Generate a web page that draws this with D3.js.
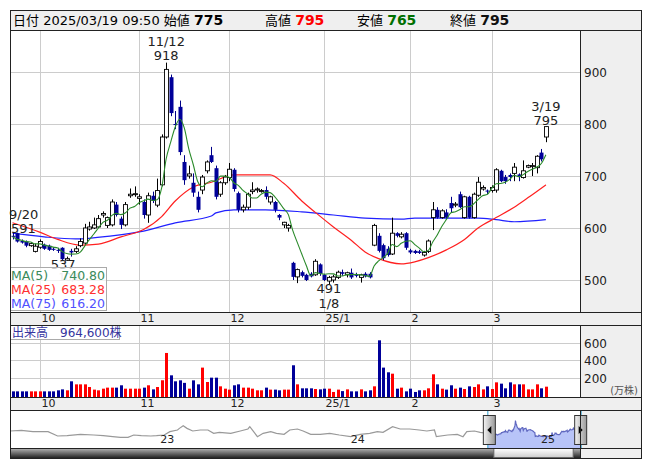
<!DOCTYPE html>
<html><head><meta charset="utf-8">
<script src="https://cdn.jsdelivr.net/npm/d3@7/dist/d3.min.js"></script>
<style>body{margin:0;background:#fff}svg{display:block}text{font-family:"DejaVu Sans","Noto Sans CJK JP",sans-serif}</style>
</head><body><svg id="c" width="653" height="470"></svg>
<script>
// ---- data ----
const holidays = ["2024-09-23","2024-10-14","2024-11-04","2024-12-31","2025-01-01","2025-01-02","2025-01-03","2025-01-13","2025-02-11","2025-02-24"];
const startDate = "2024-09-20", endDate = "2025-03-19";
const opens  = [585,590,575,574,566,555,563,568,566,560,558,562,538,556,555,566,571,598,600,602,625,605,606,645,618,606,662,665,657,650,625,662,644,683,775,890,800,833,727,700,687,660,673,710,740,715,665,687,697,712,667,635,640,670,673,670,673,650,650,625,606,600,533,506,515,510,512,510,530,510,498,500,505,515,510,514,510,505,512,512,567,585,567,560,550,590,583,590,557,556,555,548,555,620,635,620,630,648,644,665,620,660,620,663,675,672,672,673,710,698,702,705,703,697,717,718,716,745,775];
const highs  = [591,591,578,576,572,570,578,570,568,563,562,563,545,560,565,580,608,612,620,625,632,622,655,650,622,650,676,680,665,655,668,670,695,780,918,895,825,845,740,720,705,670,702,730,756,720,690,702,725,715,670,645,668,688,678,675,680,662,652,627,612,608,535,522,518,512,515,540,532,512,508,510,518,520,516,522,514,512,515,515,608,590,570,565,620,592,592,592,560,558,558,556,578,650,640,636,636,660,650,670,662,662,668,698,682,674,682,715,712,702,705,725,705,730,722,725,740,752,795];
const lows   = [578,572,570,563,564,553,560,558,556,556,552,537,537,545,552,563,568,595,598,600,620,600,603,622,598,603,658,660,645,618,610,648,640,680,772,815,790,740,683,695,660,630,665,705,725,655,660,683,690,670,630,630,635,665,668,668,655,645,630,615,600,593,500,494,505,498,505,508,508,498,491,495,502,508,505,502,505,495,505,503,565,553,538,545,548,582,580,558,550,550,550,545,552,596,618,618,618,630,640,638,618,618,618,660,672,665,668,668,688,685,690,690,690,695,715,700,705,728,765];
const closes = [583,574,572,566,570,565,574,560,558,559,556,540,541,553,560,574,600,602,606,618,628,620,650,625,606,645,665,666,660,625,662,652,672,775,905,821,798,746,692,704,668,635,698,727,727,660,687,698,713,675,635,640,665,673,675,672,660,660,635,620,611,605,506,520,508,500,507,536,512,500,505,506,515,512,514,505,508,510,507,505,605,556,542,548,590,585,588,562,553,552,552,553,575,635,620,633,620,638,646,640,660,620,665,688,678,670,678,712,690,690,698,717,698,710,720,720,738,732,795];
const volumes = [42,42,42,42,42,42,42,42,42,42,54,65,54,158,123,123,123,92,62,54,73,85,85,85,112,73,73,73,73,85,112,65,92,170,485,227,158,169,140,73,169,123,316,150,200,200,100,73,62,112,123,85,85,73,54,54,85,62,62,54,62,62,343,123,77,77,77,69,65,73,73,35,62,45,65,42,42,65,42,54,100,631,316,262,246,73,85,42,73,35,54,54,77,239,123,73,62,112,73,85,69,100,92,123,65,100,69,146,131,77,146,123,123,123,65,65,123,77,96];
const ma25Pts = [[0,610],[6,592],[10,578],[15,567],[19,569],[24,583],[29,597],[33,622],[36,652],[40,679],[44,688],[49,702],[57,702],[60,686],[64,652],[67,630],[71,602],[75,576],[78,554],[81,541],[86,531],[89,535],[92,543],[96,558],[100,578],[103,600],[107,620],[111,640],[114,658],[118,683]];
const ma75Pts = [[0,590],[7,583],[14,579],[22,585],[29,594],[36,610],[44,623],[45,629],[49,635],[56,635],[64,631],[71,625],[78,619],[86,617],[89,619],[103,619],[107,616],[111,612],[118,616]];
const navYears = [2022.21,2022.27,2022.33,2022.41,2022.46,2022.51,2022.58,2022.65,2022.70,2022.75,2022.79,2022.83,2022.86,2022.90,2022.95,2022.98,2023.02,2023.05,2023.09,2023.10,2023.12,2023.14,2023.17,2023.21,2023.25,2023.28,2023.31,2023.37,2023.42,2023.46,2023.47,2023.49,2023.51,2023.54,2023.58,2023.61,2023.65,2023.68,2023.72,2023.75,2023.79,2023.84,2023.89,2023.94,2024.00,2024.05,2024.10,2024.14,2024.17,2024.22,2024.26,2024.31,2024.36,2024.40,2024.44,2024.45,2024.51,2024.56,2024.59,2024.61,2024.65,2024.68];
const navPrices = [642,658,625,625,516,524,558,541,524,499,483,483,541,524,516,524,541,625,667,708,775,708,642,667,667,583,608,583,642,692,750,625,499,583,625,583,558,667,692,642,558,558,583,541,499,558,583,625,608,750,692,692,667,642,667,499,541,558,499,625,642,608];
const priceTicks = [500,600,700,800,900];
const volTicks = [200,400,600];
const legend = [["MA(5)","740.80","#3a8a5a"],["MA(25)","683.28","#ff3030"],["MA(75)","616.20","#5050ff"]];

// ---- dates ----
const dates = [];
for (let d = new Date(startDate+"T00:00:00Z"); d <= new Date(endDate+"T00:00:00Z"); d.setUTCDate(d.getUTCDate()+1)) {
  const s = d.toISOString().slice(0,10), wd = d.getUTCDay();
  if (wd>0 && wd<6 && !holidays.includes(s)) dates.push(s);
}
const svg = d3.select("#c");
const L=10, R=580, RR=641;
const x = d3.scaleBand().domain(dates).range([10.24, 10.24+4.52*dates.length]);
const cx = i => x(dates[i]) + x.bandwidth()/2;
const y = d3.scaleLinear().domain([500,900]).range([280,72]);
const vy = d3.scaleLinear().domain([0,600]).range([395,343]);

// backgrounds
svg.append("rect").attr("x",L).attr("y",10).attr("width",RR-L).attr("height",449).attr("fill","#efefef");
svg.append("rect").attr("x",L).attr("y",30).attr("width",R-L).attr("height",282).attr("fill","#fff");
svg.append("rect").attr("x",L).attr("y",325).attr("width",R-L).attr("height",72).attr("fill","#fff");
svg.append("rect").attr("x",L).attr("y",410).attr("width",R-L).attr("height",38).attr("fill","#fff");

// header
const hdr = svg.append("text").attr("x",13).attr("y",25).attr("font-size",13).attr("font-family","Noto Sans CJK JP");
hdr.append("tspan").text("日付 2025/03/19 09:50 始値 ");
hdr.append("tspan").attr("font-weight","bold").attr("font-size",14).text("775");
const hv = [["高値",265,"795","#ff0000"],["安値",357,"765","#007000"],["終値",450,"795","#111"]];
hv.forEach(h=>{
  const t = svg.append("text").attr("x",h[1]).attr("y",25).attr("font-size",13).attr("font-family","Noto Sans CJK JP");
  t.append("tspan").text(h[0]+" ");
  t.append("tspan").attr("font-weight","bold").attr("font-size",14).attr("fill",h[3]).text(h[2]);
});

// month gridlines & labels
const monthIdx = [];
dates.forEach((d,i)=>{ if(i>0 && d.slice(5,7)!==dates[i-1].slice(5,7)) monthIdx.push(i); });
const mlabel = d => d.slice(5,7)==="01" ? d.slice(2,4)+"/1" : String(+d.slice(5,7));
const grid = svg.append("g").attr("stroke","#cccccc").attr("stroke-width",1);
monthIdx.forEach(i=>{
  const gx = Math.round(cx(i))+0.5;
  grid.append("line").attr("x1",gx).attr("x2",gx).attr("y1",30).attr("y2",312);
  grid.append("line").attr("x1",gx).attr("x2",gx).attr("y1",325).attr("y2",397);
  [322,407].forEach(ty=>svg.append("text").attr("x",gx+1).attr("y",ty).attr("font-size",11).attr("fill","#222").text(mlabel(dates[i])));
});
priceTicks.forEach(p=>{
  grid.append("line").attr("x1",L).attr("x2",R).attr("y1",Math.round(y(p))+0.5).attr("y2",Math.round(y(p))+0.5);
  svg.append("text").attr("x",584).attr("y",y(p)+5).attr("font-size",12).attr("fill","#222").text(p);
});
volTicks.forEach(v=>{
  grid.append("line").attr("x1",L).attr("x2",R).attr("y1",Math.round(vy(v))+0.5).attr("y2",Math.round(vy(v))+0.5);
  svg.append("text").attr("x",584).attr("y",vy(v)+5).attr("font-size",12).attr("fill","#222").text(v);
});
svg.append("text").attr("x",638).attr("y",394).attr("text-anchor","end").attr("font-size",10).attr("fill","#555").attr("font-family","Noto Sans CJK JP").text("(万株)");

// MA lines
const ma5 = closes.map((c,i)=>{const s=closes.slice(Math.max(0,i-4),i+1);return [i,d3.mean(s)];});
const ln = d3.line().x(d=>cx(d[0])).y(d=>y(d[1])).curve(d3.curveMonotoneX);
svg.append("path").attr("d",ln(ma75Pts)).attr("fill","none").attr("stroke","#2020ff").attr("stroke-width",1.2);
svg.append("path").attr("d",ln(ma25Pts)).attr("fill","none").attr("stroke","#ff2020").attr("stroke-width",1.2);

// candles
const cg = svg.append("g");
closes.forEach((c,i)=>{
  const o=opens[i], up=c>=o, X=Math.round(cx(i));
  cg.append("line").attr("x1",X+0.5).attr("x2",X+0.5).attr("y1",y(highs[i])).attr("y2",y(lows[i])).attr("stroke",up?"#000":"#000088");
  const top=y(Math.max(o,c)), h=Math.max(1,Math.abs(y(o)-y(c)));
  cg.append("rect").attr("x",X-1.5).attr("y",top).attr("width",4).attr("height",h)
    .attr("fill",up?"#fff":"#000099").attr("stroke",up?"#000":"#000099").attr("stroke-width",up?0.9:0);
});
svg.append("path").attr("d",ln(ma5)).attr("fill","none").attr("stroke","#2a8a2a").attr("stroke-width",1.1);

// annotations
const ann = (tx,ty,s,anchor,col,fs)=>svg.append("text").attr("x",tx).attr("y",ty).attr("text-anchor",anchor||"middle").attr("font-size",fs||13).attr("fill",col||"#222").text(s);
ann(cx(34),46,"11/12"); ann(cx(34),60,"918");
ann(9,219,"9/20","start"); ann(11,233,"591","start");
ann(cx(11)+1,269,"537");
ann(cx(11)+8,281,"10/8","middle","#b0b0b0",10.5);
ann(cx(70),293,"491"); ann(cx(70),308,"1/8");
ann(cx(118),111,"3/19"); ann(cx(118),125,"795");

// legend box
svg.append("rect").attr("x",10.5).attr("y",267.5).attr("width",96).attr("height",43).attr("fill","rgba(255,255,255,0.75)").attr("stroke","#aaa");
legend.forEach((l,k)=>{
  svg.append("text").attr("x",11).attr("y",280+k*14).attr("font-size",12.5).attr("fill",l[2]).text(l[0]);
  svg.append("text").attr("x",105).attr("y",280+k*14).attr("text-anchor","end").attr("font-size",12.5).attr("fill",l[2]).text(l[1]);
});

// volume bars
volumes.forEach((v,i)=>{
  const c=closes[i],o=opens[i];
  const col = c>o?"#ff0000":(c<o?"#000099":"#999");
  svg.append("rect").attr("x",Math.round(cx(i))-1).attr("y",vy(v)).attr("width",3).attr("height",397-vy(v)).attr("fill",col);
});
svg.append("rect").attr("x",10.5).attr("y",325.5).attr("width",109).attr("height",14).attr("fill","#fff").attr("stroke","#aaa");
svg.append("text").attr("x",12).attr("y",337).attr("font-size",12).attr("fill","#3535a0").attr("font-family","Noto Sans CJK JP").text("出来高　964,600株");

// navigator
const nx = d3.scaleLinear().domain([2022.21,2025.21]).range([10,581]);
const ny = d3.scaleLinear().domain([491,918]).range([437,420]);
const yearOf = s => { const d=new Date(s+"T00:00:00Z"); const y0=Date.UTC(d.getUTCFullYear(),0,1); return d.getUTCFullYear()+(d-y0)/(365*864e5); };
const navAll = navYears.map((t,i)=>[t,navPrices[i]]).concat(dates.map((d,i)=>[yearOf(d),closes[i]]));
const sel = dates.map((d,i)=>[yearOf(d),closes[i]]);
const nl = d3.line().x(d=>nx(d[0])).y(d=>ny(d[1]));
const sx0 = nx(sel[0][0]), sx1 = nx(sel[sel.length-1][0]);
svg.append("rect").attr("x",sx0).attr("y",410).attr("width",sx1-sx0).attr("height",38).attr("fill","#fff");
svg.append("path").attr("d",d3.area().x(d=>nx(d[0])).y0(448).y1(d=>ny(d[1]))(sel)).attr("fill","#b8c4f8");
svg.append("path").attr("d",nl(navAll.filter(d=>d[0]<=sel[0][0]))).attr("fill","none").attr("stroke","#999").attr("stroke-width",1.2);
svg.append("path").attr("d",nl(sel)).attr("fill","none").attr("stroke","#6068c0").attr("stroke-width",1.2);
[sx0,sx1].forEach(sx=>svg.append("line").attr("x1",sx).attr("x2",sx).attr("y1",410).attr("y2",448).attr("stroke","#30a0d0"));
["23","24","25"].forEach(s=>svg.append("text").attr("x",nx(+("20"+s))).attr("y",443).attr("font-size",11).attr("fill","#222").text(s));
const defs = svg.append("defs");
const g1 = defs.append("linearGradient").attr("id","hg").attr("x1",0).attr("x2",1);
g1.append("stop").attr("offset",0).attr("stop-color","#f4f4f4"); g1.append("stop").attr("offset",1).attr("stop-color","#999");
const g2 = defs.append("linearGradient").attr("id","tg").attr("x1",0).attr("x2",0).attr("y1",0).attr("y2",1);
g2.append("stop").attr("offset",0).attr("stop-color","#bbb"); g2.append("stop").attr("offset",1).attr("stop-color","#222");
const g3 = defs.append("linearGradient").attr("id","th").attr("x1",0).attr("x2",0).attr("y1",0).attr("y2",1);
g3.append("stop").attr("offset",0).attr("stop-color","#fff"); g3.append("stop").attr("offset",1).attr("stop-color","#ccc");
svg.append("rect").attr("x",L).attr("y",448).attr("width",R-L).attr("height",10).attr("fill","url(#tg)");
svg.append("rect").attr("x",sx0+6).attr("y",448.5).attr("width",sx1-sx0-14).attr("height",9).attr("fill","url(#th)").attr("stroke","#666");
[[sx0-5,0],[sx1-7,1]].forEach(([hx,dir])=>{
  svg.append("rect").attr("x",hx+0.5).attr("y",415.5).attr("width",12).attr("height",29).attr("fill","url(#hg)").attr("stroke","#333");
  const mx=hx+6.5;
  svg.append("path").attr("d",dir? `M${mx-2},426L${mx+2},430L${mx-2},434Z` : `M${mx+2},426L${mx-2},430L${mx+2},434Z`).attr("fill","#000");
});

// borders
const bd = svg.append("g").attr("fill","none").attr("stroke","#222").attr("stroke-width",1);
bd.append("rect").attr("x",10.5).attr("y",10.5).attr("width",RR-10).attr("height",448);
[30,312,325,397,410,448].forEach(yy=>bd.append("line").attr("x1",10).attr("x2",RR).attr("y1",yy+0.5).attr("y2",yy+0.5));
[[30,312],[325,397],[410,458]].forEach(([a,b])=>bd.append("line").attr("x1",R+0.5).attr("x2",R+0.5).attr("y1",a).attr("y2",b));
</script></body></html>
